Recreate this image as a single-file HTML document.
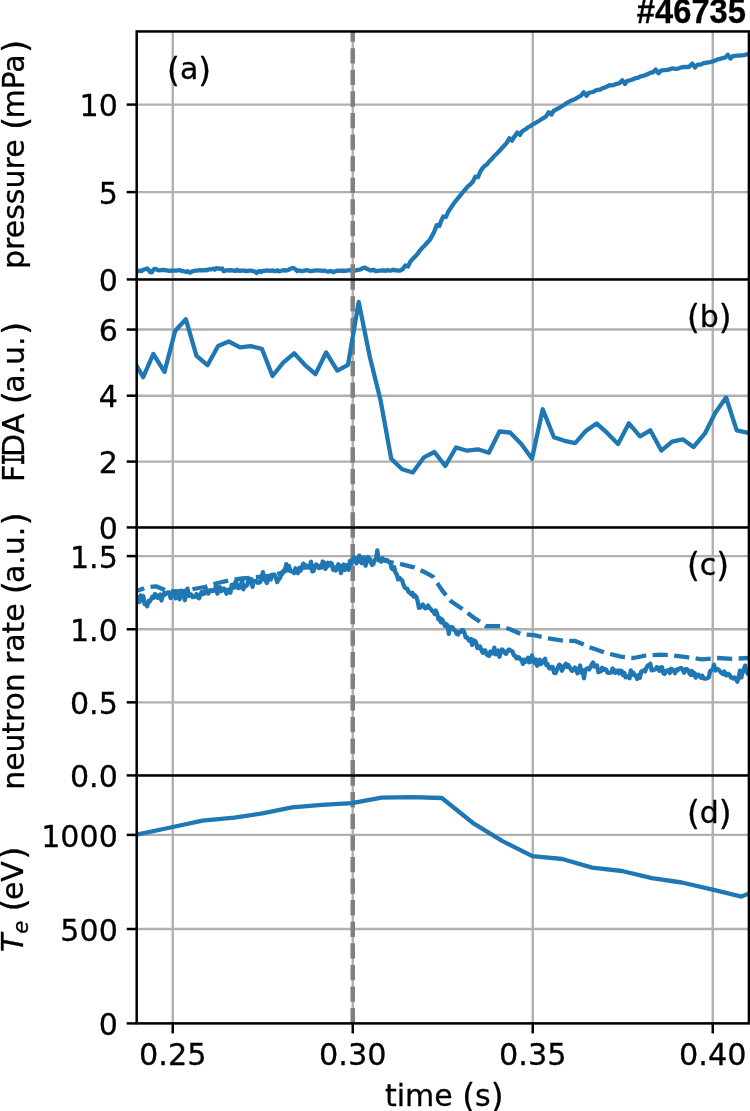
<!DOCTYPE html>
<html lang="en">
<head>
<meta charset="utf-8">
<title>#46735</title>
<style>
html,body{margin:0;padding:0;background:#fff;}
body{width:750px;height:1111px;overflow:hidden;}
svg{display:block;font-family:'DejaVu Sans','Liberation Sans',sans-serif;fill:#000;}
svg text{stroke:#000;stroke-width:0.3px;stroke-linejoin:round;}
</style>
</head>
<body>
<svg width="750" height="1111" viewBox="0 0 750 1111">
<rect x="0" y="0" width="750" height="1111" fill="#ffffff"/>
<defs>
<clipPath id="cp0"><rect x="136.70" y="31.45" width="612.20" height="247.99"/></clipPath>
<clipPath id="cp1"><rect x="136.70" y="279.44" width="612.20" height="247.99"/></clipPath>
<clipPath id="cp2"><rect x="136.70" y="527.43" width="612.20" height="247.98"/></clipPath>
<clipPath id="cp3"><rect x="136.70" y="775.41" width="612.20" height="247.99"/></clipPath>
</defs>
<g clip-path="url(#cp0)">
<line x1="172.75" y1="31.45" x2="172.75" y2="279.44" stroke="#b0b0b0" stroke-width="2.4"/>
<line x1="352.75" y1="31.45" x2="352.75" y2="279.44" stroke="#b0b0b0" stroke-width="2.4"/>
<line x1="532.75" y1="31.45" x2="532.75" y2="279.44" stroke="#b0b0b0" stroke-width="2.4"/>
<line x1="712.75" y1="31.45" x2="712.75" y2="279.44" stroke="#b0b0b0" stroke-width="2.4"/>
<line x1="136.70" y1="279.44" x2="748.90" y2="279.44" stroke="#b0b0b0" stroke-width="2.4"/>
<line x1="136.70" y1="192.10" x2="748.90" y2="192.10" stroke="#b0b0b0" stroke-width="2.4"/>
<line x1="136.70" y1="104.60" x2="748.90" y2="104.60" stroke="#b0b0b0" stroke-width="2.4"/>
<path d="M136.7 270.8 L138.2 271.2 L139.7 270.6 L141.2 271.1 L142.7 270.1 L144.2 269.3 L145.7 269.2 L147.2 268.4 L148.7 270.1 L150.2 272.2 L151.7 272.3 L153.2 269.8 L154.7 268.8 L156.2 269.3 L157.7 270.0 L159.2 270.4 L160.7 270.2 L162.2 270.0 L163.7 269.8 L165.2 270.2 L166.7 270.5 L168.2 270.6 L169.7 271.0 L171.2 270.5 L172.7 270.6 L174.2 270.6 L175.7 270.7 L177.2 270.3 L178.7 270.4 L180.2 270.1 L181.7 271.0 L183.2 271.2 L184.7 271.5 L186.2 271.9 L187.7 271.1 L189.2 272.5 L190.7 272.3 L192.2 271.4 L193.7 271.0 L195.2 270.7 L196.7 270.6 L198.2 270.3 L199.7 270.2 L201.2 270.3 L202.7 270.2 L204.2 270.3 L205.7 269.9 L207.2 270.3 L208.7 269.3 L210.2 269.3 L211.7 269.3 L213.2 268.7 L214.7 269.6 L216.2 268.2 L217.7 268.5 L219.2 268.3 L220.7 269.1 L222.2 268.5 L223.7 271.2 L225.2 270.7 L226.7 270.3 L228.2 270.2 L229.7 270.6 L231.2 270.2 L232.7 270.5 L234.2 270.6 L235.7 271.0 L237.2 269.8 L238.7 270.8 L240.2 270.8 L241.7 270.5 L243.2 270.7 L244.7 270.6 L246.2 271.1 L247.7 270.8 L249.2 270.6 L250.7 270.6 L252.2 270.9 L253.7 271.1 L255.2 271.8 L256.7 273.0 L258.2 271.5 L259.7 270.9 L261.2 272.1 L262.7 271.0 L264.2 270.8 L265.7 270.6 L267.2 270.5 L268.7 270.7 L270.2 270.9 L271.7 270.5 L273.2 270.5 L274.7 271.2 L276.2 270.9 L277.7 270.4 L279.2 271.3 L280.7 271.0 L282.2 270.5 L283.7 270.2 L285.2 270.6 L286.7 270.3 L288.2 270.0 L289.7 269.2 L291.2 268.6 L292.7 268.0 L294.2 268.4 L295.7 269.5 L297.2 271.2 L298.7 270.4 L300.2 270.7 L301.7 271.2 L303.2 270.8 L304.7 270.5 L306.2 270.4 L307.7 270.2 L309.2 270.8 L310.7 271.2 L312.2 270.8 L313.7 270.6 L315.2 270.5 L316.7 270.3 L318.2 270.4 L319.7 270.6 L321.2 270.6 L322.7 270.8 L324.2 270.5 L325.7 271.0 L327.2 271.4 L328.7 271.6 L330.2 271.0 L331.7 271.3 L333.2 272.1 L334.7 271.6 L336.2 271.0 L337.7 270.7 L339.2 271.0 L340.7 270.5 L342.2 271.0 L343.7 270.6 L345.2 270.9 L346.7 270.6 L348.2 270.4 L349.7 270.1 L351.2 270.3 L352.7 270.5 L354.2 270.8 L355.7 270.5 L357.2 269.9 L358.7 269.8 L360.2 269.5 L361.7 268.7 L363.2 268.0 L364.7 267.5 L366.2 268.4 L367.7 269.3 L369.2 269.8 L370.7 270.5 L372.2 270.0 L373.7 269.9 L375.2 270.9 L376.7 271.2 L378.2 270.7 L379.7 270.7 L381.2 270.7 L382.7 270.3 L384.2 270.5 L385.7 270.8 L387.2 270.1 L388.7 270.5 L390.2 270.6 L391.7 270.3 L393.2 269.7 L394.7 270.3 L396.2 270.2 L397.7 270.7 L399.2 270.6 L400.7 270.3 L400.7 270.1 L402.7 269.3 L405.3 265.5 L408.0 266.6 L410.3 261.7 L412.7 258.9 L415.1 256.4 L417.5 253.9 L419.9 250.6 L422.3 247.8 L424.7 245.5 L427.1 242.8 L429.5 240.3 L431.9 236.2 L434.2 231.8 L436.8 225.1 L439.5 225.8 L440.7 222.0 L443.3 216.5 L446.0 217.0 L448.3 211.5 L448.7 210.9 L451.1 207.5 L453.5 203.9 L455.9 200.8 L458.3 197.8 L460.7 194.8 L463.1 191.9 L465.5 189.2 L467.9 186.3 L470.3 184.5 L472.7 181.6 L472.7 182.0 L475.3 176.7 L478.0 177.1 L480.3 171.6 L482.3 168.5 L484.7 165.9 L487.1 164.3 L489.5 161.2 L491.9 158.9 L494.3 156.0 L496.7 153.7 L499.1 151.3 L501.5 148.5 L503.9 146.0 L506.3 143.4 L506.7 142.9 L509.3 138.2 L512.0 140.6 L514.3 136.7 L514.7 136.5 L517.3 132.5 L520.0 134.9 L522.3 131.2 L523.1 130.7 L525.5 129.4 L527.9 127.4 L530.3 126.2 L532.7 124.4 L535.1 123.3 L537.5 121.8 L539.9 120.3 L542.3 118.7 L544.7 117.4 L546.2 116.2 L548.8 112.2 L551.5 114.5 L553.8 110.7 L554.3 110.6 L556.7 109.2 L559.1 107.8 L561.5 106.4 L563.9 105.0 L566.3 103.4 L568.7 101.9 L571.1 100.7 L573.5 99.7 L575.9 98.6 L578.3 97.2 L580.7 95.9 L581.2 95.3 L583.8 92.2 L586.5 95.7 L588.8 92.8 L590.3 92.5 L592.7 92.0 L595.1 90.8 L597.5 89.8 L599.9 89.6 L602.3 88.3 L604.7 87.6 L607.1 86.6 L609.5 85.2 L611.9 85.4 L614.3 84.8 L616.7 83.8 L619.1 83.3 L619.7 83.0 L622.3 80.2 L625.0 83.9 L627.3 80.9 L628.7 80.6 L631.1 80.0 L633.5 79.1 L635.9 78.1 L638.3 77.6 L640.7 76.3 L643.1 75.8 L645.5 75.2 L647.9 74.0 L650.3 72.8 L652.7 72.2 L653.2 72.3 L655.8 69.5 L658.5 73.3 L660.8 70.8 L662.3 70.3 L664.7 70.1 L667.1 69.9 L669.5 69.4 L671.9 68.4 L674.3 68.7 L676.7 68.9 L679.1 68.2 L681.5 67.3 L683.9 67.0 L686.3 66.8 L688.7 67.0 L689.7 66.2 L692.3 63.6 L695.0 67.4 L697.3 64.8 L698.3 64.6 L700.7 64.6 L703.1 63.4 L705.5 62.8 L707.9 62.5 L710.3 62.1 L712.7 61.4 L715.1 60.6 L717.5 59.4 L719.9 58.9 L722.3 58.2 L724.7 57.6 L725.2 57.6 L727.8 54.7 L730.5 58.6 L732.8 56.2 L734.3 56.0 L736.7 55.6 L739.1 55.5 L741.5 55.3 L743.9 55.1 L746.3 54.5 L748.7 54.2 L748.8 54.3" fill="none" stroke="#1f77b4" stroke-width="4.3" stroke-linejoin="round" stroke-linecap="square"/>
<line x1="352.75" y1="279.44" x2="352.75" y2="1.45" stroke="#808080" stroke-width="4.5" stroke-dasharray="15.3 6.3"/>
</g>
<line x1="126.70" y1="279.44" x2="136.70" y2="279.44" stroke="#000" stroke-width="2.5"/>
<text x="117.8" y="291.1" text-anchor="end" font-size="30.1">0</text>
<line x1="126.70" y1="192.10" x2="136.70" y2="192.10" stroke="#000" stroke-width="2.5"/>
<text x="117.8" y="203.8" text-anchor="end" font-size="30.1">5</text>
<line x1="126.70" y1="104.60" x2="136.70" y2="104.60" stroke="#000" stroke-width="2.5"/>
<text x="117.8" y="116.3" text-anchor="end" font-size="30.1">10</text>
<text x="167.1" y="79.3" text-anchor="start" font-size="30"><tspan font-size="32.8" dy="2.20">(</tspan><tspan dy="-2.20" dx="0.00">a</tspan><tspan font-size="32.8" dy="2.20" dx="-0.00">)</tspan></text>
<text transform="translate(24.3 154.4) rotate(-90)" text-anchor="middle" font-size="30">pressure <tspan font-size="32.8" dy="2.40">(</tspan><tspan dy="-2.40" dx="-1.60">mPa</tspan><tspan font-size="32.8" dy="2.40" dx="1.60">)</tspan></text>
<g clip-path="url(#cp1)">
<line x1="172.75" y1="279.44" x2="172.75" y2="527.43" stroke="#b0b0b0" stroke-width="2.4"/>
<line x1="352.75" y1="279.44" x2="352.75" y2="527.43" stroke="#b0b0b0" stroke-width="2.4"/>
<line x1="532.75" y1="279.44" x2="532.75" y2="527.43" stroke="#b0b0b0" stroke-width="2.4"/>
<line x1="712.75" y1="279.44" x2="712.75" y2="527.43" stroke="#b0b0b0" stroke-width="2.4"/>
<line x1="136.70" y1="527.43" x2="748.90" y2="527.43" stroke="#b0b0b0" stroke-width="2.4"/>
<line x1="136.70" y1="461.60" x2="748.90" y2="461.60" stroke="#b0b0b0" stroke-width="2.4"/>
<line x1="136.70" y1="395.70" x2="748.90" y2="395.70" stroke="#b0b0b0" stroke-width="2.4"/>
<line x1="136.70" y1="329.55" x2="748.90" y2="329.55" stroke="#b0b0b0" stroke-width="2.4"/>
<line x1="352.75" y1="527.43" x2="352.75" y2="249.44" stroke="#808080" stroke-width="4.5" stroke-dasharray="15.3 6.3"/>
<path d="M136.8 366.0 L143.2 377.2 L153.3 354.0 L164.5 371.9 L175.2 330.8 L185.9 319.3 L196.5 355.9 L207.5 365.2 L218.1 346.0 L228.8 341.5 L240.0 347.4 L250.7 346.1 L261.9 348.8 L272.5 376.0 L283.2 362.7 L294.1 353.3 L304.8 364.8 L315.5 374.1 L326.1 352.5 L337.3 370.7 L348.0 364.8 L358.7 301.9 L369.9 357.3 L380.5 400.0 L391.2 458.7 L402.1 469.3 L412.8 472.5 L424.0 457.3 L434.4 452.0 L445.3 465.9 L456.0 447.5 L467.2 450.7 L477.9 449.3 L488.8 452.8 L499.5 431.5 L510.1 432.5 L521.3 444.0 L532.0 458.7 L542.7 409.3 L553.9 437.3 L564.5 440.8 L575.2 443.2 L586.1 430.7 L596.6 423.4 L607.4 433.2 L618.1 443.9 L628.9 423.3 L640.0 436.4 L650.3 430.3 L661.3 450.6 L672.1 441.6 L682.7 439.3 L693.5 447.0 L704.8 433.7 L715.3 412.8 L726.1 397.5 L736.7 430.3 L748.8 433.0" fill="none" stroke="#1f77b4" stroke-width="4.3" stroke-linejoin="round" stroke-linecap="square"/>
</g>
<line x1="126.70" y1="527.43" x2="136.70" y2="527.43" stroke="#000" stroke-width="2.5"/>
<text x="117.8" y="539.1" text-anchor="end" font-size="30.1">0</text>
<line x1="126.70" y1="461.60" x2="136.70" y2="461.60" stroke="#000" stroke-width="2.5"/>
<text x="117.8" y="473.3" text-anchor="end" font-size="30.1">2</text>
<line x1="126.70" y1="395.70" x2="136.70" y2="395.70" stroke="#000" stroke-width="2.5"/>
<text x="117.8" y="407.4" text-anchor="end" font-size="30.1">4</text>
<line x1="126.70" y1="329.55" x2="136.70" y2="329.55" stroke="#000" stroke-width="2.5"/>
<text x="117.8" y="341.2" text-anchor="end" font-size="30.1">6</text>
<line x1="136.70" y1="279.44" x2="748.90" y2="279.44" stroke="#000" stroke-width="2.5"/>
<text x="686.9" y="327.1" text-anchor="start" font-size="30"><tspan font-size="32.8" dy="2.20">(</tspan><tspan dy="-2.20" dx="0.00">b</tspan><tspan font-size="32.8" dy="2.20" dx="-0.00">)</tspan></text>
<text transform="translate(24.3 402.4) rotate(-90)" text-anchor="middle" font-size="30"><tspan dx="0.4">F</tspan><tspan dx="-1.0" font-family="'DejaVu Sans Mono',monospace" textLength="12.2" lengthAdjust="spacingAndGlyphs" stroke-width="0.55">I</tspan><tspan dx="-3.4">D</tspan><tspan dx="0.25">A</tspan> <tspan font-size="32.8" dy="2.40">(</tspan><tspan dy="-2.40" dx="-1.60">a.u.</tspan><tspan font-size="32.8" dy="2.40" dx="1.60">)</tspan></text>
<g clip-path="url(#cp2)">
<line x1="172.75" y1="527.43" x2="172.75" y2="775.41" stroke="#b0b0b0" stroke-width="2.4"/>
<line x1="352.75" y1="527.43" x2="352.75" y2="775.41" stroke="#b0b0b0" stroke-width="2.4"/>
<line x1="532.75" y1="527.43" x2="532.75" y2="775.41" stroke="#b0b0b0" stroke-width="2.4"/>
<line x1="712.75" y1="527.43" x2="712.75" y2="775.41" stroke="#b0b0b0" stroke-width="2.4"/>
<line x1="136.70" y1="775.41" x2="748.90" y2="775.41" stroke="#b0b0b0" stroke-width="2.4"/>
<line x1="136.70" y1="702.35" x2="748.90" y2="702.35" stroke="#b0b0b0" stroke-width="2.4"/>
<line x1="136.70" y1="629.25" x2="748.90" y2="629.25" stroke="#b0b0b0" stroke-width="2.4"/>
<line x1="136.70" y1="556.10" x2="748.90" y2="556.10" stroke="#b0b0b0" stroke-width="2.4"/>
<line x1="352.75" y1="775.41" x2="352.75" y2="497.43" stroke="#808080" stroke-width="4.5" stroke-dasharray="15.3 6.3"/>
<path d="M136.8 597.6 L138.1 597.3 L139.4 602.0 L140.7 595.4 L142.0 600.2 L143.3 596.0 L144.6 604.1 L145.9 603.5 L147.2 606.2 L148.5 601.0 L149.8 601.6 L151.1 599.2 L152.4 596.8 L153.7 597.8 L155.0 594.0 L156.3 595.3 L157.6 597.8 L158.9 596.3 L160.2 594.6 L161.5 600.5 L162.8 595.7 L164.1 593.1 L165.4 594.4 L166.7 592.6 L168.0 592.5 L169.3 592.3 L170.6 598.1 L171.9 593.7 L173.2 593.3 L174.5 594.6 L175.8 598.3 L177.1 593.3 L178.4 591.7 L179.7 599.3 L181.0 590.7 L182.3 592.3 L183.6 595.4 L184.9 600.2 L186.2 593.1 L187.5 588.6 L188.8 595.9 L190.1 594.4 L191.4 594.7 L192.7 597.2 L194.0 596.9 L195.3 596.5 L196.6 594.1 L197.9 597.6 L199.2 598.2 L200.5 594.2 L201.8 591.9 L203.1 594.1 L204.4 593.3 L205.7 589.2 L207.0 589.9 L208.3 593.6 L209.6 591.1 L210.9 590.0 L212.2 591.1 L213.5 590.5 L214.8 590.3 L216.1 585.3 L217.4 593.6 L218.7 590.7 L220.0 587.3 L221.3 591.1 L222.6 589.7 L223.9 588.5 L225.2 590.6 L226.5 593.7 L227.8 589.6 L229.1 591.3 L230.4 592.7 L231.7 584.8 L233.0 584.6 L234.3 587.6 L235.6 581.6 L236.9 584.1 L238.2 588.1 L239.5 587.9 L240.8 586.5 L242.1 579.8 L243.4 589.3 L244.7 586.0 L246.0 585.9 L247.3 585.0 L248.6 579.1 L249.9 578.8 L251.2 579.1 L252.5 586.8 L253.8 580.8 L255.1 581.2 L256.4 581.0 L257.7 582.8 L259.0 582.7 L260.3 581.9 L261.6 577.7 L262.9 572.2 L264.2 579.4 L265.5 580.5 L266.8 582.9 L268.1 579.7 L269.4 577.7 L270.7 579.6 L272.0 574.6 L273.3 574.8 L274.6 574.6 L275.9 577.5 L277.2 582.1 L278.5 579.2 L279.8 578.6 L281.1 575.1 L282.4 573.6 L283.7 570.4 L285.0 569.8 L286.3 564.2 L287.6 566.2 L288.9 566.0 L290.2 571.1 L291.5 571.1 L292.8 572.1 L294.1 573.1 L295.4 568.3 L296.7 570.8 L298.0 573.2 L299.3 568.6 L300.6 570.6 L301.9 567.7 L303.2 563.6 L304.5 567.2 L305.8 565.3 L307.1 567.3 L308.4 566.1 L309.7 567.8 L311.0 561.8 L312.3 571.4 L313.6 570.9 L314.9 566.5 L316.2 564.4 L317.5 566.2 L318.8 568.1 L320.1 567.7 L321.4 567.5 L322.7 561.5 L324.0 562.6 L325.3 568.8 L326.6 567.2 L327.9 562.7 L329.2 563.9 L330.5 562.8 L331.8 563.8 L333.1 569.7 L334.4 567.2 L335.7 570.4 L337.0 568.7 L338.3 564.3 L339.6 565.7 L340.9 573.2 L342.2 566.5 L343.5 564.6 L344.8 570.0 L346.1 567.8 L347.4 567.1 L348.7 569.8 L350.0 560.8 L351.3 563.9 L352.6 559.6 L353.9 557.4 L355.2 558.4 L356.5 563.4 L357.8 560.6 L359.1 555.7 L360.4 556.5 L361.7 563.2 L363.0 562.7 L364.3 557.4 L365.6 565.7 L366.9 559.9 L368.2 557.1 L369.5 559.5 L370.8 562.7 L372.1 565.0 L373.4 563.9 L374.7 560.1 L376.0 559.3 L377.3 550.5 L378.6 560.3 L379.9 559.6 L381.2 561.7 L382.5 558.3 L383.8 560.1 L385.1 560.1 L386.4 560.0 L387.7 560.7 L389.0 561.9 L390.3 562.5 L391.6 568.4 L392.9 569.4 L394.2 567.2 L395.5 572.8 L396.8 574.4 L398.1 579.4 L399.4 577.7 L400.7 579.3 L402.0 580.2 L403.3 584.2 L404.6 587.5 L405.9 588.3 L407.2 588.6 L408.5 592.0 L409.8 592.5 L411.1 594.2 L412.4 592.7 L413.7 596.6 L415.0 595.4 L416.3 596.9 L417.6 601.0 L418.9 607.9 L420.2 607.4 L421.5 605.7 L422.8 604.5 L424.1 607.1 L425.4 608.3 L426.7 607.8 L428.0 605.4 L429.3 607.9 L430.6 608.7 L431.9 610.7 L433.2 611.3 L434.5 613.9 L435.8 610.5 L437.1 613.6 L438.4 619.3 L439.7 617.8 L441.0 622.4 L442.3 619.5 L443.6 622.6 L444.9 626.1 L446.2 624.1 L447.5 625.1 L448.8 633.8 L450.1 627.5 L451.4 627.0 L452.7 627.7 L454.0 629.9 L455.3 630.6 L456.6 633.8 L457.9 634.4 L459.2 631.9 L460.5 632.2 L461.8 630.1 L463.1 630.2 L464.4 632.7 L465.7 637.4 L467.0 637.2 L468.3 639.6 L469.6 640.9 L470.9 638.9 L472.2 645.0 L473.5 640.3 L474.8 640.7 L476.1 642.5 L477.4 648.1 L478.7 646.9 L480.0 646.5 L481.3 649.9 L482.6 652.7 L483.9 650.5 L485.2 650.4 L486.5 654.3 L487.8 655.2 L489.1 655.8 L490.4 651.5 L491.7 653.2 L493.0 653.4 L494.3 647.7 L495.6 654.3 L496.9 652.2 L498.2 650.5 L499.5 656.7 L500.8 652.1 L502.1 649.4 L503.4 650.8 L504.7 652.7 L506.0 653.8 L507.3 651.9 L508.6 649.6 L509.9 649.9 L511.2 650.8 L512.5 651.5 L513.8 655.3 L515.1 655.8 L516.4 658.3 L517.7 657.2 L519.0 657.3 L520.3 659.4 L521.6 659.6 L522.9 663.9 L524.2 659.6 L525.5 661.7 L526.8 661.2 L528.1 657.8 L529.4 662.3 L530.7 661.4 L532.0 655.4 L533.3 661.2 L534.6 663.1 L535.9 659.5 L537.2 665.7 L538.5 663.1 L539.8 659.8 L541.1 664.1 L542.4 662.8 L543.7 660.5 L545.0 658.7 L546.3 665.1 L547.6 664.1 L548.9 668.0 L550.2 668.5 L551.5 666.8 L552.8 667.1 L554.1 672.9 L555.4 673.2 L556.7 670.6 L558.0 667.1 L559.3 664.7 L560.6 665.6 L561.9 670.7 L563.2 668.2 L564.5 666.2 L565.8 663.7 L567.1 667.1 L568.4 665.1 L569.7 667.3 L571.0 669.7 L572.3 671.0 L573.6 669.0 L574.9 667.6 L576.2 668.9 L577.5 673.3 L578.8 670.4 L580.1 665.5 L581.4 672.5 L582.7 670.3 L584.0 678.3 L585.3 669.6 L586.6 668.9 L587.9 668.1 L589.2 669.5 L590.5 667.0 L591.8 664.2 L593.1 662.4 L594.4 666.5 L595.7 665.9 L597.0 665.4 L598.3 672.2 L599.6 670.3 L600.9 671.2 L602.2 667.8 L603.5 669.7 L604.8 669.1 L606.1 669.5 L607.4 672.4 L608.7 672.9 L610.0 672.7 L611.3 672.5 L612.6 668.5 L613.9 669.8 L615.2 673.0 L616.5 671.7 L617.8 670.5 L619.1 673.4 L620.4 670.6 L621.7 671.0 L623.0 675.1 L624.3 672.9 L625.6 677.4 L626.9 676.1 L628.2 677.0 L629.5 678.3 L630.8 670.4 L632.1 674.9 L633.4 672.8 L634.7 674.9 L636.0 676.5 L637.3 678.9 L638.6 675.0 L639.9 677.8 L641.2 671.7 L642.5 671.0 L643.8 670.3 L645.1 671.4 L646.4 668.0 L647.7 665.4 L649.0 666.1 L650.3 663.7 L651.6 670.3 L652.9 670.2 L654.2 669.6 L655.5 669.3 L656.8 667.2 L658.1 667.6 L659.4 670.9 L660.7 667.6 L662.0 667.2 L663.3 673.1 L664.6 673.9 L665.9 670.8 L667.2 671.0 L668.5 670.1 L669.8 673.1 L671.1 668.8 L672.4 669.5 L673.7 670.6 L675.0 673.3 L676.3 669.6 L677.6 670.3 L678.9 668.7 L680.2 668.2 L681.5 668.2 L682.8 670.2 L684.1 672.7 L685.4 669.2 L686.7 669.0 L688.0 670.2 L689.3 673.0 L690.6 674.9 L691.9 671.0 L693.2 675.1 L694.5 673.0 L695.8 677.6 L697.1 674.8 L698.4 674.7 L699.7 676.0 L701.0 677.8 L702.3 675.7 L703.6 678.4 L704.9 678.7 L706.2 678.6 L707.5 678.0 L708.8 677.3 L710.1 671.2 L711.4 670.2 L712.7 669.5 L714.0 664.8 L715.3 670.6 L716.6 668.9 L717.9 669.1 L719.2 670.1 L720.5 672.0 L721.8 673.2 L723.1 674.1 L724.4 671.6 L725.7 675.1 L727.0 675.3 L728.3 673.8 L729.6 674.9 L730.9 677.5 L732.2 677.4 L733.5 678.5 L734.8 677.6 L736.1 679.3 L737.4 681.7 L738.7 677.1 L740.0 670.7 L741.3 677.5 L742.6 672.3 L743.9 669.0 L745.2 665.6 L746.5 671.7 L747.8 673.8 L748.8 670.7" fill="none" stroke="#1f77b4" stroke-width="4.3" stroke-linejoin="round" stroke-linecap="square"/>
<path d="M136.8 591.0 L146.0 587.5 L156.0 586.3 L167.0 591.0 L182.0 591.5 L193.5 589.0 L204.7 587.0 L217.7 583.0 L228.9 580.5 L242.0 578.5 L253.0 577.5 L264.0 576.5 L272.0 575.5 L280.7 573.0 L288.7 569.5 L302.0 567.7" fill="none" stroke="#1f77b4" stroke-width="4.3" stroke-linejoin="round" stroke-linecap="butt" stroke-dasharray="15.2 6.4" stroke-dashoffset="7.22"/>
<path d="M302.0 567.7 L315.3 566.3 L327.3 565.2 L339.3 566.5 L350.0 564.5 L362.0 560.5 L372.7 559.5 L382.0 560.0 L390.0 562.0 L402.0 564.4 L414.0 567.3 L426.0 572.8 L433.2 576.9 L441.6 589.6 L450.0 600.4 L462.0 608.8 L474.0 617.7 L486.0 626.1 L500.4 626.1 L510.0 629.2 L520.8 634.0 L534.0 635.2 L548.4 638.3 L562.8 640.7 L575.2 641.0 L590.4 647.4 L605.6 652.9 L620.8 656.7 L633.5 658.0 L646.1 655.5 L661.3 654.7 L674.0 655.5 L686.7 657.2 L701.9 659.3 L717.1 658.0 L732.3 658.8 L748.8 658.0" fill="none" stroke="#1f77b4" stroke-width="4.3" stroke-linejoin="round" stroke-linecap="butt" stroke-dasharray="15.2 6.4" stroke-dashoffset="8.49"/>
</g>
<line x1="126.70" y1="775.41" x2="136.70" y2="775.41" stroke="#000" stroke-width="2.5"/>
<text x="117.8" y="787.1" text-anchor="end" font-size="30.1">0.0</text>
<line x1="126.70" y1="702.35" x2="136.70" y2="702.35" stroke="#000" stroke-width="2.5"/>
<text x="117.8" y="714.1" text-anchor="end" font-size="30.1">0.5</text>
<line x1="126.70" y1="629.25" x2="136.70" y2="629.25" stroke="#000" stroke-width="2.5"/>
<text x="117.8" y="641.0" text-anchor="end" font-size="30.1">1.0</text>
<line x1="126.70" y1="556.10" x2="136.70" y2="556.10" stroke="#000" stroke-width="2.5"/>
<text x="117.8" y="567.8" text-anchor="end" font-size="30.1">1.5</text>
<line x1="136.70" y1="527.43" x2="748.90" y2="527.43" stroke="#000" stroke-width="2.5"/>
<text x="686.9" y="575.0" text-anchor="start" font-size="30"><tspan font-size="32.8" dy="2.20">(</tspan><tspan dy="-2.20" dx="0.00">c</tspan><tspan font-size="32.8" dy="2.20" dx="-0.00">)</tspan></text>
<text transform="translate(24.3 651.2) rotate(-90)" text-anchor="middle" font-size="30" letter-spacing="-0.12">neutron rate <tspan font-size="32.8" dy="2.40">(</tspan><tspan dy="-2.40" dx="-1.60">a.u.</tspan><tspan font-size="32.8" dy="2.40" dx="1.60">)</tspan></text>
<g clip-path="url(#cp3)">
<line x1="172.75" y1="775.41" x2="172.75" y2="1023.40" stroke="#b0b0b0" stroke-width="2.4"/>
<line x1="352.75" y1="775.41" x2="352.75" y2="1023.40" stroke="#b0b0b0" stroke-width="2.4"/>
<line x1="532.75" y1="775.41" x2="532.75" y2="1023.40" stroke="#b0b0b0" stroke-width="2.4"/>
<line x1="712.75" y1="775.41" x2="712.75" y2="1023.40" stroke="#b0b0b0" stroke-width="2.4"/>
<line x1="136.70" y1="1023.40" x2="748.90" y2="1023.40" stroke="#b0b0b0" stroke-width="2.4"/>
<line x1="136.70" y1="929.00" x2="748.90" y2="929.00" stroke="#b0b0b0" stroke-width="2.4"/>
<line x1="136.70" y1="834.90" x2="748.90" y2="834.90" stroke="#b0b0b0" stroke-width="2.4"/>
<line x1="352.75" y1="1023.40" x2="352.75" y2="745.41" stroke="#808080" stroke-width="4.5" stroke-dasharray="15.3 6.3"/>
<path d="M136.8 834.7 L170.5 827.5 L202.5 820.6 L234.5 817.7 L262.3 813.4 L292.1 807.4 L322.0 804.9 L351.9 803.2 L381.7 797.6 L411.6 797.2 L441.8 798.0 L472.7 822.8 L502.5 841.1 L532.4 856.1 L562.3 859.0 L592.1 867.6 L622.0 871.0 L651.9 878.2 L681.7 882.5 L711.6 889.3 L741.5 896.6 L748.8 893.6" fill="none" stroke="#1f77b4" stroke-width="4.3" stroke-linejoin="round" stroke-linecap="square"/>
</g>
<line x1="126.70" y1="1023.40" x2="136.70" y2="1023.40" stroke="#000" stroke-width="2.5"/>
<text x="117.8" y="1035.1" text-anchor="end" font-size="30.1">0</text>
<line x1="126.70" y1="929.00" x2="136.70" y2="929.00" stroke="#000" stroke-width="2.5"/>
<text x="117.8" y="940.7" text-anchor="end" font-size="30.1">500</text>
<line x1="126.70" y1="834.90" x2="136.70" y2="834.90" stroke="#000" stroke-width="2.5"/>
<text x="117.8" y="846.6" text-anchor="end" font-size="30.1">1000</text>
<line x1="172.75" y1="1023.40" x2="172.75" y2="1033.40" stroke="#000" stroke-width="2.5"/>
<text x="172.8" y="1065.1" text-anchor="middle" font-size="30.3">0.25</text>
<line x1="352.75" y1="1023.40" x2="352.75" y2="1033.40" stroke="#000" stroke-width="2.5"/>
<text x="352.8" y="1065.1" text-anchor="middle" font-size="30.3">0.30</text>
<line x1="532.75" y1="1023.40" x2="532.75" y2="1033.40" stroke="#000" stroke-width="2.5"/>
<text x="532.8" y="1065.1" text-anchor="middle" font-size="30.3">0.35</text>
<line x1="712.75" y1="1023.40" x2="712.75" y2="1033.40" stroke="#000" stroke-width="2.5"/>
<text x="712.8" y="1065.1" text-anchor="middle" font-size="30.3">0.40</text>
<line x1="136.70" y1="775.41" x2="748.90" y2="775.41" stroke="#000" stroke-width="2.5"/>
<text x="686.9" y="822.9" text-anchor="start" font-size="30"><tspan font-size="32.8" dy="2.20">(</tspan><tspan dy="-2.20" dx="0.00">d</tspan><tspan font-size="32.8" dy="2.20" dx="-0.00">)</tspan></text>
<text transform="translate(22.6 899.4) rotate(-90)" text-anchor="middle" font-size="30"><tspan font-style="oblique">T</tspan><tspan font-style="oblique" font-size="21" dy="5.6">e</tspan><tspan dy="-5.6"> </tspan><tspan font-size="32.8" dy="2.40">(</tspan><tspan dy="-2.40" dx="-1.60">eV</tspan><tspan font-size="32.8" dy="2.40" dx="1.60">)</tspan></text>
<rect x="136.70" y="31.45" width="612.20" height="991.95" fill="none" stroke="#000" stroke-width="2.5"/>
<text x="444.2" y="1105.6" text-anchor="middle" font-size="30">time <tspan font-size="32.8" dy="2.20">(</tspan><tspan dy="-2.20" dx="0.00">s</tspan><tspan font-size="32.8" dy="2.20" dx="-0.00">)</tspan></text>
<text x="746.0" y="23.3" text-anchor="end" font-size="34.5" textLength="109.2" lengthAdjust="spacingAndGlyphs" font-weight="bold" font-family="'Liberation Sans',sans-serif">#46735</text>
</svg>
</body>
</html>
